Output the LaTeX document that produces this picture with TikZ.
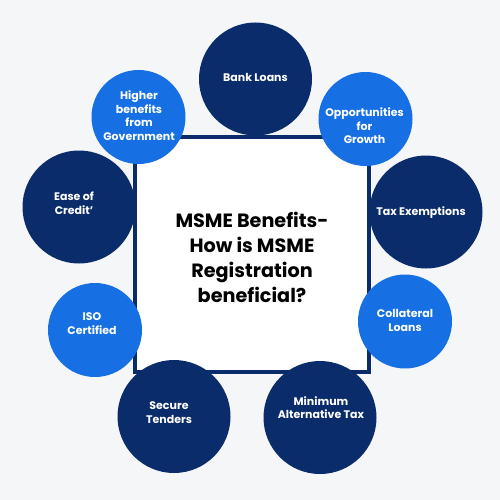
\documentclass[tikz,border=0pt]{standalone}
\usepackage{fontspec}
\setmainfont{Poppins}
\definecolor{navy}{HTML}{0B2C6A}
\definecolor{brightblue}{HTML}{1670E4}
\definecolor{bgcol}{HTML}{F5F6F8}
\begin{document}
\begin{tikzpicture}[x=1pt,y=-1pt,
  bigc/.style={circle,fill=navy,minimum size=113pt,inner sep=0pt},
  smallc/.style={circle,fill=brightblue,minimum size=94pt,inner sep=0pt},
  lbl/.style={text=white,align=center,font=\bfseries\fontsize{11}{13.6}\selectfont,inner sep=0pt},
  ttl/.style={text=black,align=center,font=\bfseries\fontsize{19.2}{25}\selectfont,inner sep=0pt}]
\fill[bgcol] (0,0) rectangle (500,500);
\useasboundingbox (0,0) rectangle (500,500);
\node[draw=navy,line width=4pt,fill=white,minimum width=234pt,minimum height=235pt,inner sep=0pt] (box) at (252,254.5) {};
\node[ttl] (title) at (252,257.5) {MSME Benefits-\\How is MSME\\Registration\\beneficial?};
% circles
\node[bigc] (bank) at (255.5,79) {};
\node[smallc] (opp) at (365.5,119) {};
\node[bigc] (tax) at (426,212) {};
\node[smallc] (coll) at (405,321.5) {};
\node[bigc] (mat) at (320,417.5) {};
\node[bigc] (sec) at (174,416.5) {};
\node[smallc] (iso) at (95,330) {};
\node[bigc] (ease) at (79,207) {};
\node[smallc] (gov) at (138.5,117) {};
% labels
\node[lbl] (bankt) at (255.5,77) {Bank Loans};
\node[lbl] (oppt) at (364.5,126) {Opportunities\\for\\Growth};
\node[lbl] (taxt) at (421,213) {Tax Exemptions};
\node[lbl] (collt) at (405,320.5) {Collateral\\Loans};
\node[lbl] (matt) at (321,407.5) {Minimum\\Alternative Tax};
\node[lbl] (sect) at (169,412.5) {Secure\\Tenders};
\node[lbl] (isot) at (92,323.5) {ISO\\Certified};
\node[lbl] (easet) at (74,203) {Ease of\\Credit’};
\node[lbl] (govt) at (139,115.5) {Higher\\benefits\\from\\Government};
\end{tikzpicture}
\end{document}
